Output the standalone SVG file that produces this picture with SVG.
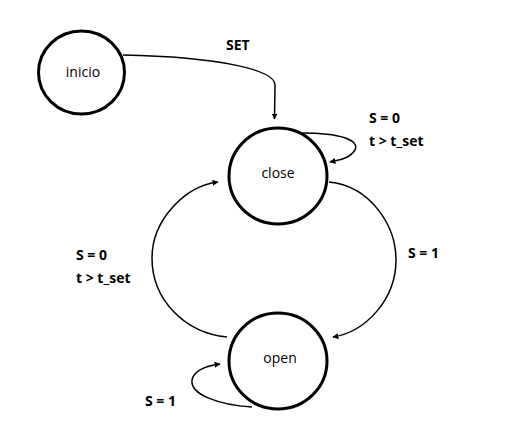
<svg xmlns="http://www.w3.org/2000/svg" width="505" height="443" viewBox="0 0 505 443">
<defs>
<marker id="arr" viewBox="0 0 10 10" refX="9" refY="5" markerWidth="6" markerHeight="6" markerUnits="userSpaceOnUse" orient="auto">
<path d="M0,0 L10,5 L0,10 Z" fill="#000"/>
</marker>
</defs>
<style>
.node{fill:#fff;stroke:#000;stroke-width:3}
.name{font-family:"Open Sans","Liberation Sans",sans-serif;font-size:14px;fill:#000;text-anchor:middle}
.edge{fill:none;stroke:#000;stroke-width:1.5;marker-end:url(#arr)}
.lbl{font-family:"Open Sans","Liberation Sans",sans-serif;font-size:14px;font-weight:bold;fill:#000}
</style>
<rect width="505" height="443" fill="#fff"/>
<g id="connectors">
<path class="edge" d="M123,55 C220,57 275,70 275,85 L274.5,119"/>
<path class="edge" d="M302,133 C340,133 360,140 355,150 C350,158 340,160 330,162"/>
<path class="edge" d="M329,182 C370,186 396,225 396,260 C396,300 365,332 333,337"/>
<path class="edge" d="M227,337 C185,333 152,300 152,258 C152,220 185,186 218,182"/>
<path class="edge" d="M252,407 C220,405 190,395 192,380 C194,370 205,366 220,364"/>
</g>
<g id="inicio">
<ellipse class="node" cx="81.5" cy="72.5" rx="43" ry="41.5"/>
<text class="name" x="83" y="77">inicio</text>
</g>
<g id="close">
<ellipse class="node" cx="278" cy="176" rx="49" ry="48"/>
<text class="name" x="278" y="178">close</text>
</g>
<g id="open">
<ellipse class="node" cx="278" cy="361" rx="49" ry="48"/>
<text class="name" x="280" y="363">open</text>
</g>
<g id="labels">
<text class="lbl" x="226" y="50">SET</text>
<text class="lbl" x="369" y="123">S = 0</text>
<text class="lbl" x="369" y="146">t &gt; t_set</text>
<text class="lbl" x="76" y="260">S = 0</text>
<text class="lbl" x="76" y="283">t &gt; t_set</text>
<text class="lbl" x="408" y="258">S = 1</text>
<text class="lbl" x="145" y="406">S = 1</text>
</g>
</svg>
